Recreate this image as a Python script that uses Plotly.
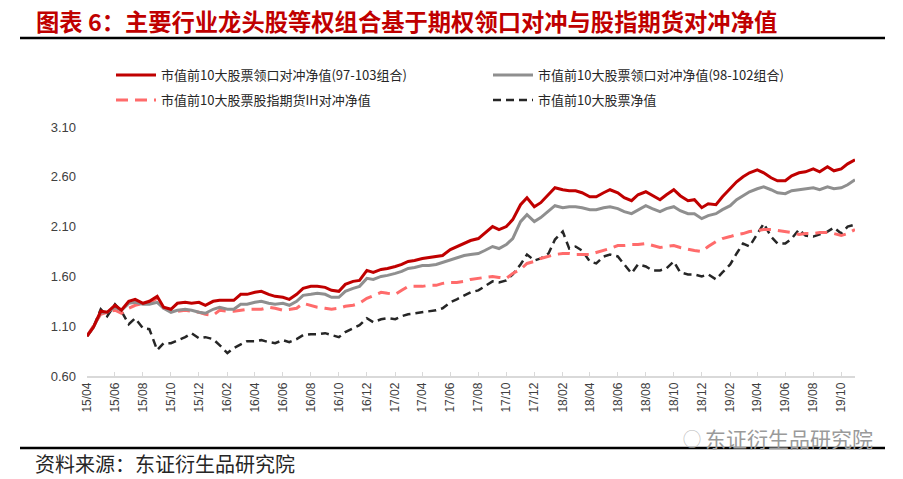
#!/usr/bin/env python3
"""
图表 6 – 主要行业龙头股等权组合：期权领口对冲 vs 股指期货对冲净值
"""

import pandas as pd
import plotly.graph_objects as go

# ───────────── data (semi-monthly readings, 2015-04 → 2019-10) ─────────────
DATES = list(pd.date_range("2015-04-01", "2019-10-15", freq="SMS").strftime("%Y-%m-%d")) + ["2019-10-31"]

COLLAR_97_103 = [
    1.00, 1.09, 1.25, 1.24, 1.31, 1.26, 1.35, 1.37, 1.33, 1.35, 1.40, 1.29,
    1.27, 1.33, 1.34, 1.33, 1.34, 1.31, 1.35, 1.36, 1.36, 1.36, 1.42, 1.42,
    1.44, 1.45, 1.42, 1.40, 1.39, 1.37, 1.42, 1.48, 1.50, 1.50, 1.49, 1.46,
    1.45, 1.52, 1.55, 1.56, 1.66, 1.64, 1.67, 1.68, 1.70, 1.72, 1.75, 1.76,
    1.78, 1.79, 1.80, 1.81, 1.87, 1.90, 1.93, 1.96, 1.98, 2.03, 2.10, 2.07,
    2.10, 2.17, 2.32, 2.39, 2.30, 2.34, 2.42, 2.49, 2.47, 2.46, 2.46, 2.44,
    2.40, 2.40, 2.44, 2.47, 2.44, 2.39, 2.36, 2.42, 2.45, 2.41, 2.37, 2.42,
    2.47, 2.41, 2.36, 2.37, 2.29, 2.33, 2.32, 2.40, 2.48, 2.55, 2.60, 2.64,
    2.67, 2.64, 2.59, 2.56, 2.56, 2.61, 2.64, 2.65, 2.68, 2.65, 2.70, 2.66,
    2.68, 2.73, 2.77,
]
COLLAR_98_102 = [
    1.00, 1.09, 1.24, 1.24, 1.29, 1.26, 1.33, 1.34, 1.32, 1.32, 1.34, 1.28,
    1.24, 1.26, 1.27, 1.26, 1.24, 1.23, 1.27, 1.29, 1.27, 1.27, 1.32, 1.32,
    1.34, 1.35, 1.33, 1.32, 1.33, 1.31, 1.35, 1.41, 1.42, 1.43, 1.42, 1.39,
    1.39, 1.45, 1.48, 1.50, 1.58, 1.57, 1.60, 1.61, 1.63, 1.65, 1.68, 1.69,
    1.71, 1.71, 1.72, 1.74, 1.77, 1.79, 1.81, 1.82, 1.83, 1.86, 1.90, 1.88,
    1.92, 1.98, 2.15, 2.22, 2.15, 2.19, 2.26, 2.31, 2.29, 2.30, 2.30, 2.29,
    2.27, 2.27, 2.29, 2.30, 2.28, 2.25, 2.23, 2.27, 2.31, 2.28, 2.25, 2.28,
    2.30, 2.26, 2.23, 2.23, 2.18, 2.21, 2.23, 2.27, 2.31, 2.37, 2.41, 2.45,
    2.48, 2.50, 2.47, 2.44, 2.43, 2.46, 2.47, 2.48, 2.49, 2.47, 2.50, 2.48,
    2.49, 2.52, 2.57,
]
IH_HEDGE = [
    1.00, 1.10, 1.22, 1.24, 1.26, 1.23, 1.28, 1.31, 1.33, 1.33, 1.38, 1.28,
    1.26, 1.25, 1.26, 1.25, 1.24, 1.22, 1.21, 1.26, 1.25, 1.25, 1.26, 1.27,
    1.27, 1.27, 1.29, 1.28, 1.26, 1.27, 1.28, 1.33, 1.31, 1.29, 1.28, 1.27,
    1.28, 1.30, 1.31, 1.33, 1.38, 1.41, 1.44, 1.43, 1.42, 1.46, 1.50, 1.50,
    1.50, 1.51, 1.51, 1.53, 1.54, 1.54, 1.55, 1.57, 1.58, 1.59, 1.60, 1.59,
    1.58, 1.63, 1.67, 1.73, 1.75, 1.78, 1.80, 1.82, 1.83, 1.83, 1.82, 1.82,
    1.82, 1.84, 1.86, 1.88, 1.91, 1.91, 1.92, 1.92, 1.93, 1.91, 1.89, 1.90,
    1.91, 1.89, 1.87, 1.86, 1.85, 1.90, 1.95, 1.98, 2.00, 2.02, 2.03, 2.05,
    2.06, 2.07, 2.07, 2.06, 2.05, 2.04, 2.02, 2.03, 2.03, 2.04, 2.04, 2.03,
    2.01, 2.03, 2.07,
]
TOP10_NAV = [
    1.00, 1.09, 1.27, 1.20, 1.32, 1.25, 1.12, 1.18, 1.08, 1.07, 0.86, 0.93,
    0.93, 0.96, 0.99, 1.03, 0.98, 0.99, 0.97, 0.91, 0.83, 0.88, 0.92, 0.95,
    0.95, 0.96, 0.94, 0.93, 0.96, 0.94, 0.97, 1.01, 1.02, 1.02, 1.03, 1.01,
    0.99, 1.04, 1.08, 1.11, 1.18, 1.14, 1.17, 1.18, 1.17, 1.20, 1.22, 1.23,
    1.24, 1.25, 1.26, 1.28, 1.34, 1.37, 1.41, 1.44, 1.46, 1.50, 1.55, 1.54,
    1.56, 1.62, 1.72, 1.82, 1.76, 1.78, 1.83, 1.97, 2.05, 1.88, 1.90, 1.86,
    1.75, 1.73, 1.80, 1.82, 1.80, 1.72, 1.63, 1.72, 1.70, 1.66, 1.66, 1.68,
    1.75, 1.64, 1.62, 1.62, 1.60, 1.62, 1.57, 1.64, 1.72, 1.83, 1.93, 1.90,
    2.02, 2.13, 2.00, 1.93, 1.93, 1.98, 2.07, 2.01, 2.00, 2.02, 2.05, 2.09,
    2.03, 2.10, 2.12,
]

TICK_DATES = list(pd.date_range("2015-04-01", "2019-10-01", freq="2MS").strftime("%Y-%m-%d"))
TICK_TEXT  = [d[2:4] + "/" + d[5:7] for d in TICK_DATES]

TITLE  = "图表 6：主要行业龙头股等权组合基于期权领口对冲与股指期货对冲净值"
SOURCE = "资料来源：东证衍生品研究院"
MARK   = "东证衍生品研究院"

CJK = "Noto Sans CJK SC"

# plot box in pixels
L, R, T, B = 87, 855, 127, 376
PW, PH = R - L, B - T

def px(x):  # pixel column -> paper x
    return (x - L) / PW

def py(y):  # pixel row -> paper y
    return (B - y) / PH

# ───────────── figure ─────────────
fig = go.Figure()

series = [
    ("市值前10大股票领口对冲净值(97-103组合)", COLLAR_97_103, "#C00000", "solid", 3, "legend"),
    ("市值前10大股票领口对冲净值(98-102组合)", COLLAR_98_102, "#8F8F8F", "solid", 3, "legend"),
    ("市值前10大股票股指期货IH对冲净值", IH_HEDGE, "#FF6B6B", "12px,7px", 3, "legend2"),
    ("市值前10大股票净值", TOP10_NAV, "#262626", "8px,5px", 2.5, "legend2"),
]
# dashed lines first so the solid ones sit on top
for name, ys, col, dash, w, leg in [series[3], series[2], series[1], series[0]]:
    fig.add_trace(go.Scatter(
        x=DATES, y=ys, mode="lines", name=name, legend=leg,
        line=dict(color=col, width=w, dash=dash),
    ))

leg_common = dict(
    orientation="h", traceorder="reversed",
    xanchor="left", yanchor="middle",
    entrywidth=322, entrywidthmode="pixels",
    font=dict(family=CJK, size=13, color="#262626"),
    itemwidth=40, bgcolor="rgba(0,0,0,0)",
)
fig.update_layout(
    width=903, height=479,
    paper_bgcolor="white", plot_bgcolor="white",
    margin=dict(l=L, r=903 - R, t=T, b=479 - B, autoexpand=False),
    font=dict(family=CJK, size=12, color="#404040"),
    legend=dict(x=px(111), y=py(75), **leg_common),
    legend2=dict(x=px(111), y=py(100), **leg_common),
    showlegend=True,
)

fig.update_xaxes(
    type="date", range=["2015-04-01", "2019-10-31"],
    tickmode="array", tickvals=TICK_DATES, ticktext=TICK_TEXT,
    tickangle=-90, tickfont=dict(family="Liberation Sans", size=12, color="#404040"),
    showgrid=False, zeroline=False,
    showline=True, linecolor="#D9D9D9", linewidth=1.5,
    ticks="inside", ticklen=4, tickcolor="#D9D9D9",
)
fig.update_yaxes(
    range=[0.6, 3.1], tickmode="array",
    tickvals=[0.6, 1.1, 1.6, 2.1, 2.6, 3.1],
    ticktext=["0.60", "1.10", "1.60", "2.10", "2.60", "3.10"],
    tickfont=dict(family="Liberation Sans", size=13, color="#404040"),
    showgrid=False, zeroline=False, showline=False, ticks="",
    ticklabelstandoff=10,
)

# title / rules / source / watermark
fig.add_annotation(
    text=f"<b>{TITLE}</b>", xref="paper", yref="paper",
    x=px(34), y=py(21), xanchor="left", yanchor="middle",
    showarrow=False, font=dict(family=CJK, size=23.3, color="#C00000"),
)
for yy in (38, 448):
    fig.add_shape(type="line", xref="paper", yref="paper",
                  x0=px(20), x1=px(885), y0=py(yy), y1=py(yy),
                  line=dict(color="black", width=2.5))
fig.add_annotation(
    text=SOURCE, xref="paper", yref="paper",
    x=px(33), y=py(463), xanchor="left", yanchor="middle",
    showarrow=False, font=dict(family=CJK, size=20, color="#262626"),
)
fig.add_annotation(
    text=MARK, xref="paper", yref="paper",
    x=px(875), y=py(438), xanchor="right", yanchor="middle",
    showarrow=False, font=dict(family=CJK, size=21, color="#9A9A9A"),
)
fig.add_annotation(
    text="◯", xref="paper", yref="paper",
    x=px(703), y=py(438), xanchor="right", yanchor="middle",
    showarrow=False, font=dict(family=CJK, size=18, color="#BBBBBB"),
)

# page body has an 8px default margin; drop it so the figure sits at (0, 0)
fig.write_html("out.html", config={"displayModeBar": False},
               post_script="document.body.style.margin='0';")
